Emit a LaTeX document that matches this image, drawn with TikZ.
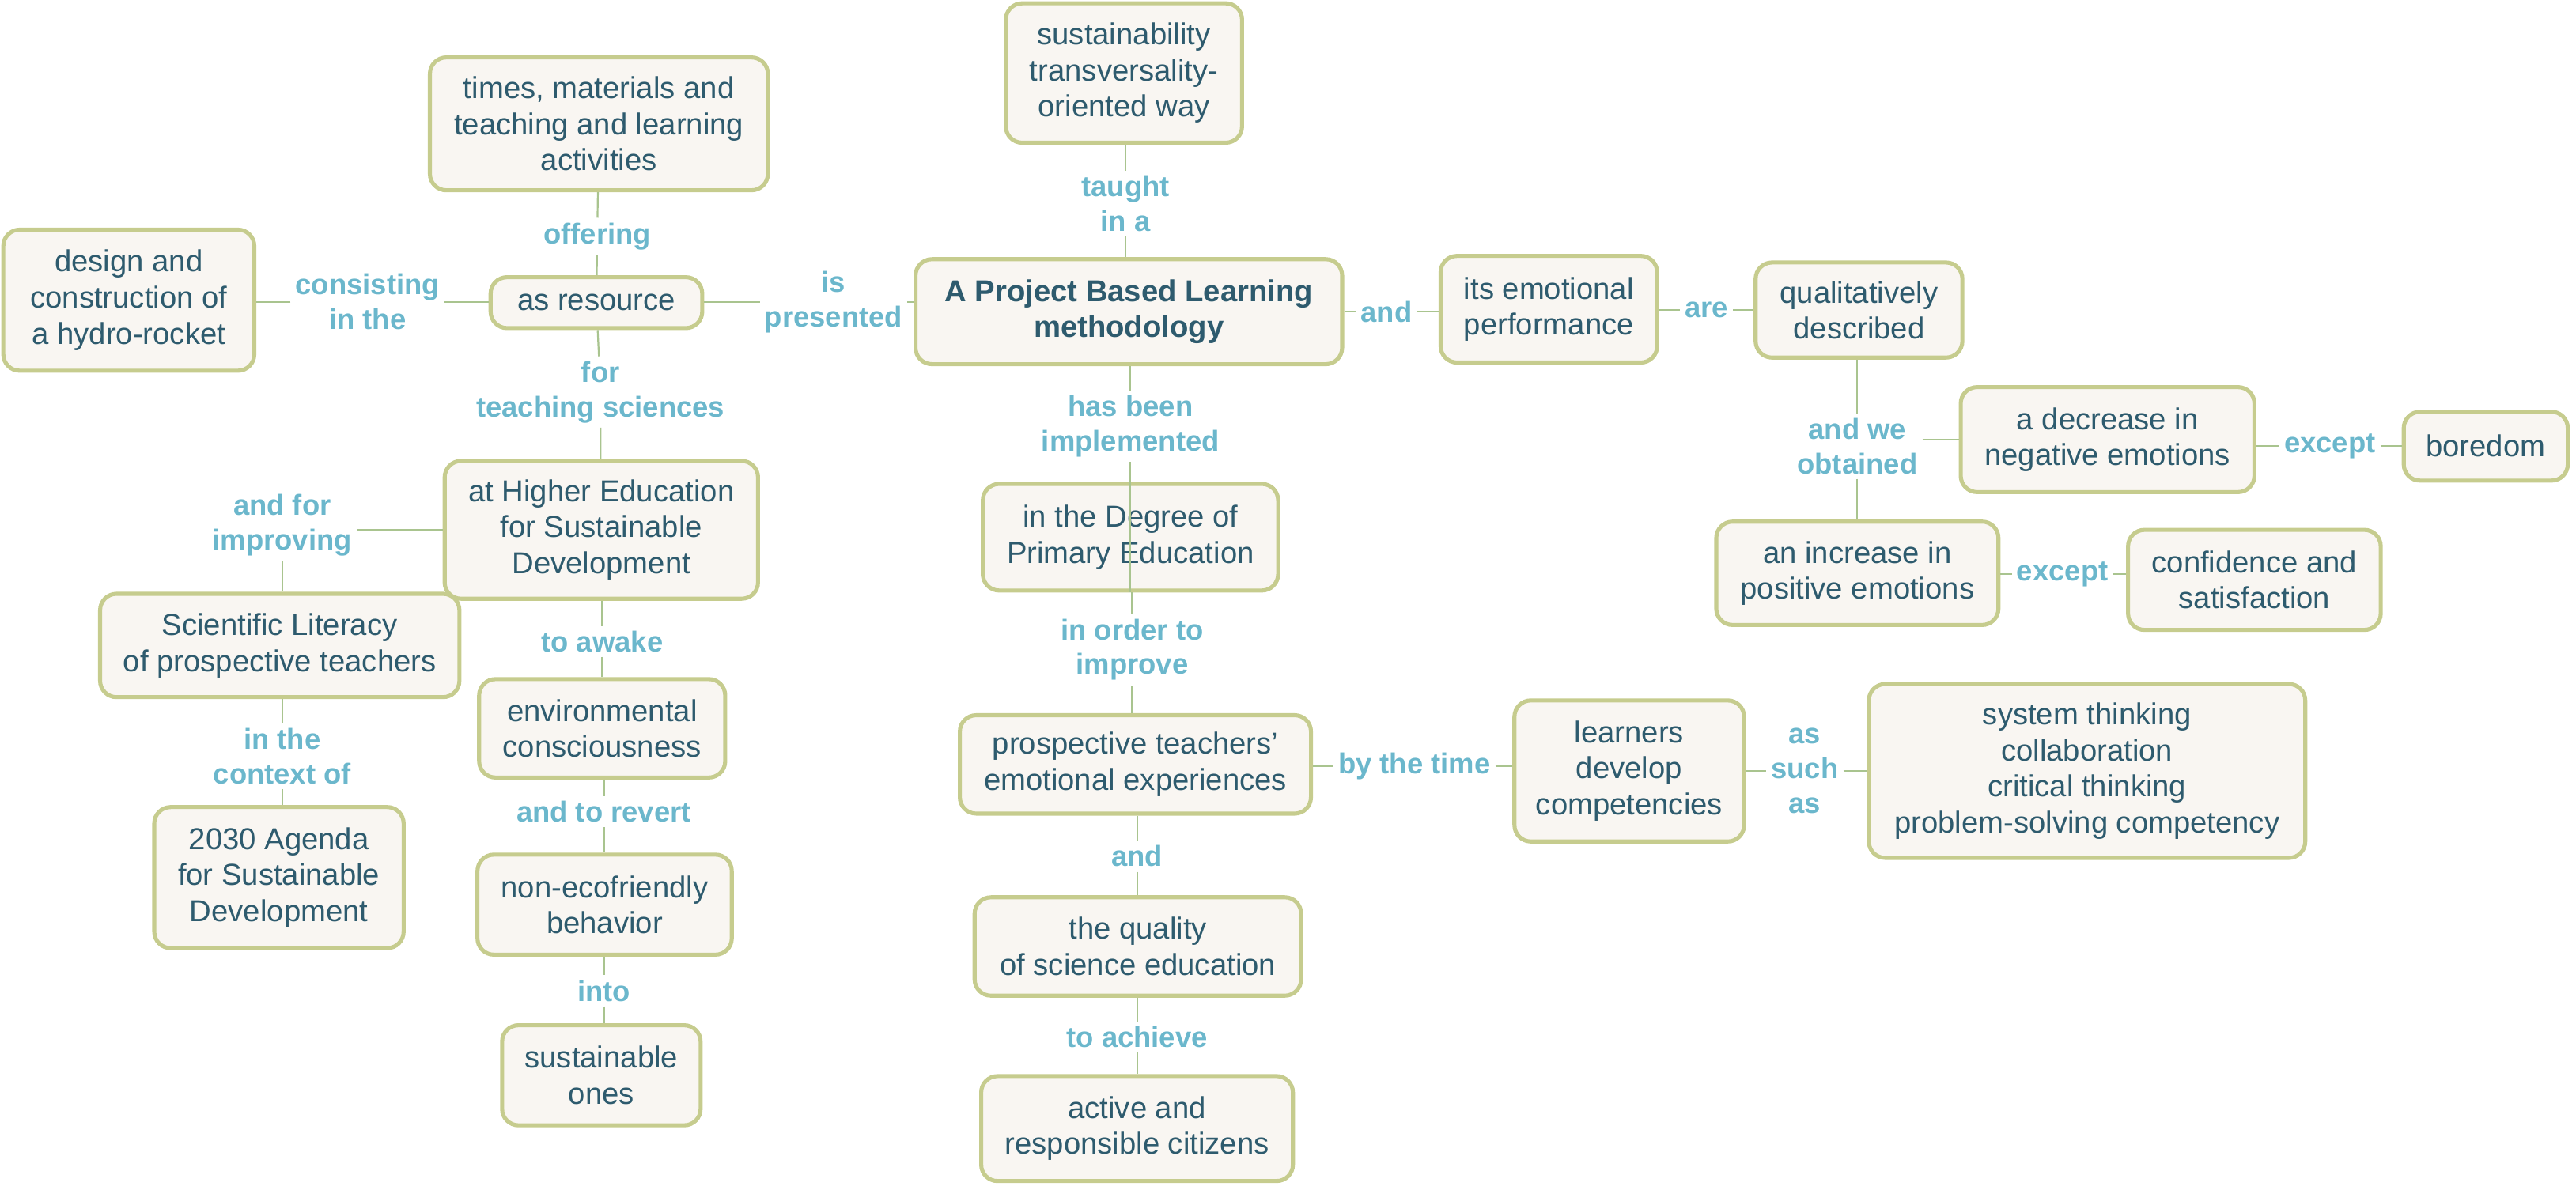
\documentclass[tikz,border=0pt]{standalone}
\usepackage{fontspec}
\setmainfont{Liberation Sans}
\definecolor{bd}{HTML}{C6CC8E}
\definecolor{bf}{HTML}{F9F6F2}
\definecolor{tx}{HTML}{2E5B6E}
\definecolor{lb}{HTML}{6BB7CC}
\definecolor{ln}{HTML}{A9C48F}
\tikzset{
 box/.style={draw=bd,line width=1.4pt,fill=bf,rounded corners=0.2cm,text=tx,align=center,
   font=\fontsize{10.5}{12.5}\selectfont,inner sep=0pt},
 lbl/.style={text=lb,align=center,font=\fontsize{10}{12}\selectfont\bfseries,inner sep=1.5pt},
 con/.style={draw=ln,line width=0.6pt}
}
\newcommand\cbox[6]{\node[box,minimum width={(#4-#2)*0.02cm},minimum height={(#5-#3)*0.02cm}] (#1) at ({(#2+#4)/2},{(#3+#5)/2}) {#6};}
\begin{document}
\begin{tikzpicture}[x=0.02cm,y=-0.02cm]
\useasboundingbox (0,0) rectangle (1570,725);
\cbox{sust}{613}{2}{757}{87}{sustainability\\transversality-\\oriented way}
\cbox{times}{262}{35}{468}{116}{times, materials and\\teaching and learning\\activities}
\cbox{design}{2}{140}{155}{226}{design and\\construction of\\a hydro-rocket}
\cbox{res}{299}{169}{428}{200}{as resource}
\cbox{main}{558}{158}{818}{222}{\bfseries A Project Based Learning\\\bfseries methodology}
\cbox{emo}{878}{156}{1010}{221}{its emotional\\performance}
\cbox{qual}{1070}{160}{1196}{218}{qualitatively\\described}
\cbox{higher}{271}{281}{462}{365}{at Higher Education\\for Sustainable\\Development}
\cbox{degree}{599}{295}{779}{360}{in the Degree of\\Primary Education}
\cbox{dec}{1195}{236}{1374}{300}{a decrease in\\negative emotions}
\cbox{bore}{1465}{251}{1565}{293}{boredom}
\cbox{inc}{1046}{318}{1218}{381}{an increase in\\positive emotions}
\cbox{conf}{1297}{323}{1451}{384}{confidence and\\satisfaction}
\cbox{scilit}{61}{362}{280}{425}{Scientific Literacy\\of prospective teachers}
\cbox{env}{292}{414}{442}{474}{environmental\\consciousness}
\cbox{prosp}{585}{436}{799}{496}{prospective teachers'\\emotional experiences}
\cbox{learn}{923}{427}{1063}{513}{learners\\develop\\competencies}
\cbox{sys}{1139}{417}{1405}{523}{system thinking\\collaboration\\critical thinking\\problem-solving competency}
\cbox{agenda}{94}{492}{246}{578}{2030 Agenda\\for Sustainable\\Development}
\cbox{nonec}{291}{521}{446}{582}{non-ecofriendly\\behavior}
\cbox{quality}{594}{547}{793}{607}{the quality\\of science education}
\cbox{sust2}{306}{625}{427}{686}{sustainable\\ones}
\cbox{active}{598}{656}{788}{720}{active and\\responsible citizens}

\node[lbl] (l1) at (686,124) {taught\\in a};
\node[lbl] (l2) at (508,184) {is\\presented};
\node[lbl] (l3) at (364,144) {offering};
\node[lbl] (l4) at (224,184) {consisting\\in the};
\node[lbl] (l5) at (366,239) {for\\teaching sciences};
\node[lbl] (l6) at (845,190) {and};
\node[lbl] (l7) at (1040,189) {are};
\node[lbl] (l8) at (689,260) {has been\\implemented};
\node[lbl] (l9) at (1132,272) {and we\\obtained};
\node[lbl] (l10) at (1420,272) {except};
\node[lbl] (l11) at (1257,350) {except};
\node[lbl] (l12) at (172,320) {and for\\improving};
\node[lbl] (l13) at (172,461) {in the\\context of};
\node[lbl] (l14) at (367,391) {to awake};
\node[lbl] (l15) at (368,495) {and to revert};
\node[lbl] (l16) at (368,604) {into};
\node[lbl] (l17) at (690,396) {in order to\\improve};
\node[lbl] (l18) at (862,467) {by the time};
\node[lbl] (l19) at (1100,470) {as\\such\\as};
\node[lbl] (l20) at (693,522) {and};
\node[lbl] (l21) at (693,632) {to achieve};

\draw[con] (main.north -| l1) -- (l1) -- (sust.south -| l1);
\draw[con] (main.west |- l2) -- (l2) -- (res.east |- l2);
\draw[con] (res) -- (l3) -- (times);
\draw[con] (res.west |- l4) -- (l4) -- (design.east |- l4);
\draw[con] (res) -- (l5) -- (higher.north -| l5);
\draw[con] (main.east |- l6) -- (l6) -- (emo.west |- l6);
\draw[con] (emo.east |- l7) -- (l7) -- (qual.west |- l7);
\draw[con] (main.south -| l8) -- (l8) -- (degree.south -| l8);
\draw[con] (qual.south -| l9) -- (l9) -- (inc.north -| l9);
\draw[con] (l9.east |- dec.west) -- (dec.west);
\draw[con] (dec.east |- l10) -- (l10) -- (bore.west |- l10);
\draw[con] (inc.east |- l11) -- (l11) -- (conf.west |- l11);
\draw[con] (higher.west) -- (l12.east |- higher.west);
\draw[con] (l12) -- (scilit.north -| l12);
\draw[con] (scilit.south -| l13) -- (l13) -- (agenda.north -| l13);
\draw[con] (higher.south -| l14) -- (l14) -- (env.north -| l14);
\draw[con] (env.south -| l15) -- (l15) -- (nonec.north -| l15);
\draw[con] (nonec.south -| l16) -- (l16) -- (sust2.north -| l16);
\draw[con] (degree.south -| l17) -- (l17) -- (prosp.north -| l17);
\draw[con] (prosp.east |- l18) -- (l18) -- (learn.west |- l18);
\draw[con] (learn.east |- l19) -- (l19) -- (sys.west |- l19);
\draw[con] (prosp.south -| l20) -- (l20) -- (quality.north -| l20);
\draw[con] (quality.south -| l21) -- (l21) -- (active.north -| l21);
\end{tikzpicture}
\end{document}
